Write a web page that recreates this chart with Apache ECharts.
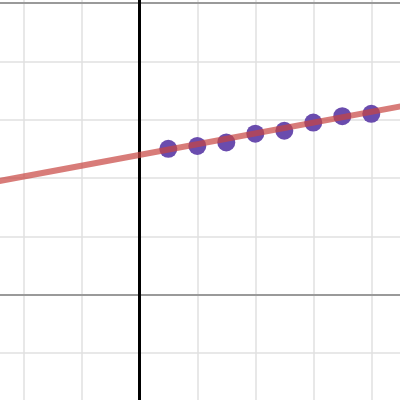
<!DOCTYPE html>
<html>
<head>
<meta charset="utf-8">
<script src="https://cdn.jsdelivr.net/npm/echarts@6/dist/echarts.min.js"></script>
<style>
  html, body { margin: 0; padding: 0; background: #fff; }
  #main { width: 400px; height: 400px; }
</style>
</head>
<body>
<div id="main"></div>
<script>
// data
var pointX = [0.5, 1, 1.5, 2, 2.5, 3, 3.5, 4];
var pointY = [2.50, 2.55, 2.61, 2.76, 2.81, 2.95, 3.06, 3.10];
// fitted line, two end points
var lineX = [-3, 5];
var lineY = [1.84, 3.32];
// grid lines
var minorX = [-2, -1, 1, 2, 3, 4];
var minorY = [-1, 1, 2, 3, 4];
var majorY = [0, 5];

var myChart = echarts.init(document.getElementById('main'));

function vLines(list) {
    return list.map(function (v) { return { xAxis: v }; });
}
function hLines(list) {
    return list.map(function (v) { return { yAxis: v }; });
}

var points = pointX.map(function (x, i) { return [x, pointY[i]]; });
var fit = lineX.map(function (x, i) { return [x, lineY[i]]; });

myChart.setOption({
    animation: false,
    grid: { left: 0, right: 0, top: 0, bottom: 0 },
    xAxis: {
        type: 'value',
        min: -2.402,
        max: 4.495,
        axisLine: { show: false },
        axisTick: { show: false },
        axisLabel: { show: false },
        splitLine: { show: false }
    },
    yAxis: {
        type: 'value',
        min: -1.805,
        max: 5.051,
        axisLine: { show: false },
        axisTick: { show: false },
        axisLabel: { show: false },
        splitLine: { show: false }
    },
    series: [
        {
            // grid
            type: 'line',
            data: [],
            markLine: {
                silent: true,
                symbol: 'none',
                label: { show: false },
                lineStyle: { color: '#e0e0e0', width: 1.5, type: 'solid' },
                data: vLines(minorX).concat(hLines(minorY))
            }
        },
        {
            type: 'line',
            data: [],
            markLine: {
                silent: true,
                symbol: 'none',
                label: { show: false },
                lineStyle: { color: '#9a9a9a', width: 2, type: 'solid' },
                data: hLines(majorY)
            }
        },
        {
            type: 'line',
            data: [],
            markLine: {
                silent: true,
                symbol: 'none',
                label: { show: false },
                lineStyle: { color: '#000', width: 3, type: 'solid' },
                data: vLines([0])
            }
        },
        {
            type: 'scatter',
            data: points,
            symbolSize: 18,
            itemStyle: { color: '#6a4cae', opacity: 1 },
            z: 5
        },
        {
            type: 'line',
            data: fit,
            showSymbol: false,
            symbol: 'none',
            lineStyle: { color: '#c74440', width: 6, opacity: 0.7 },
            z: 6
        }
    ]
});
</script>
</body>
</html>
